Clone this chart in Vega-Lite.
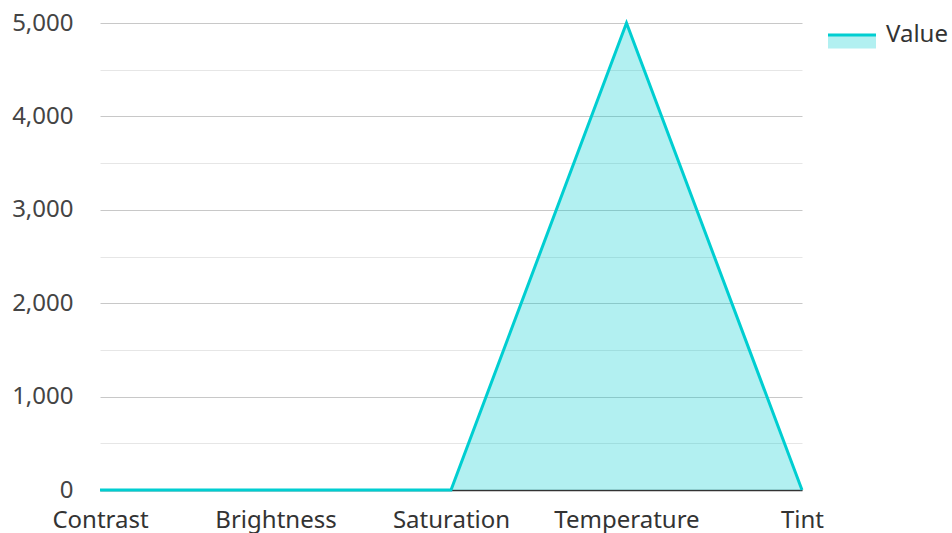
{
  "$schema": "https://vega.github.io/schema/vega-lite/v6.json",
  "width": 702,
  "height": 467,
  "autosize": {"type": "none"},
  "padding": {"left": 100, "top": 23, "right": 150, "bottom": 43},
  "background": "white",
  "config": {
    "view": {"stroke": null},
    "font": "Noto Sans"
  },
  "data": {
    "values": [
      {"setting": "Contrast", "value": 0, "series": "Value"},
      {"setting": "Brightness", "value": 0, "series": "Value"},
      {"setting": "Saturation", "value": 0, "series": "Value"},
      {"setting": "Temperature", "value": 5000, "series": "Value"},
      {"setting": "Tint", "value": 0, "series": "Value"}
    ]
  },
  "encoding": {
    "x": {
      "field": "setting",
      "type": "ordinal",
      "sort": null,
      "scale": {"type": "point", "padding": 0},
      "axis": {
        "title": null,
        "labelAngle": 0,
        "labelFontSize": 24,
        "labelColor": "#333333",
        "labelPadding": 18,
        "ticks": false,
        "tickSize": 0,
        "grid": false,
        "domainColor": "#333333",
        "domainWidth": 1.5,
        "labelFont": "Noto Sans"
      }
    },
    "y": {
      "field": "value",
      "type": "quantitative",
      "scale": {"domain": [0, 5000], "nice": false}
    }
  },
  "layer": [
    {
      "mark": {"type": "area", "color": "#00CED1", "opacity": 0.3},
      "encoding": {
        "y": {
          "field": "value",
          "type": "quantitative",
          "axis": {
            "orient": "left",
            "title": null,
            "values": [500, 1500, 2500, 3500, 4500],
            "labels": false,
            "ticks": false,
            "domain": false,
            "grid": true,
            "gridColor": "#E6E6E6",
            "gridWidth": 1
          }
        }
      }
    },
    {
      "mark": {"type": "line", "strokeWidth": 3, "strokeJoin": "miter"},
      "encoding": {
        "y": {
          "field": "value",
          "type": "quantitative",
          "axis": {
            "orient": "left",
            "title": null,
            "values": [0, 1000, 2000, 3000, 4000, 5000],
            "format": ",d",
            "labelFontSize": 24,
            "labelColor": "#444444",
            "labelFont": "Noto Sans",
            "labelPadding": 27,
            "ticks": false,
            "tickSize": 0,
            "domain": false,
            "grid": true,
            "gridColor": "#C8C8C8",
            "gridWidth": 1
          }
        },
        "color": {
          "field": "series",
          "type": "nominal",
          "scale": {"range": ["#00CED1"]},
          "legend": {
            "title": null,
            "orient": "right",
            "offset": 12,
            "padding": 0,
            "labelFontSize": 24,
            "labelColor": "#333333",
            "labelFont": "Noto Sans",
            "symbolType": "M-1,0L11,0L11,3.4L-1,3.4Z",
            "symbolSize": 64,
            "labelOffset": 42,
            "symbolStrokeWidth": 3,
            "symbolDash": [48, 300],
            "symbolFillColor": "#B2F0F1",
            "symbolStrokeColor": "#00CED1",
            "symbolOpacity": 1
          }
        }
      }
    }
  ],
  "resolve": {"axis": {"y": "independent"}}
}
